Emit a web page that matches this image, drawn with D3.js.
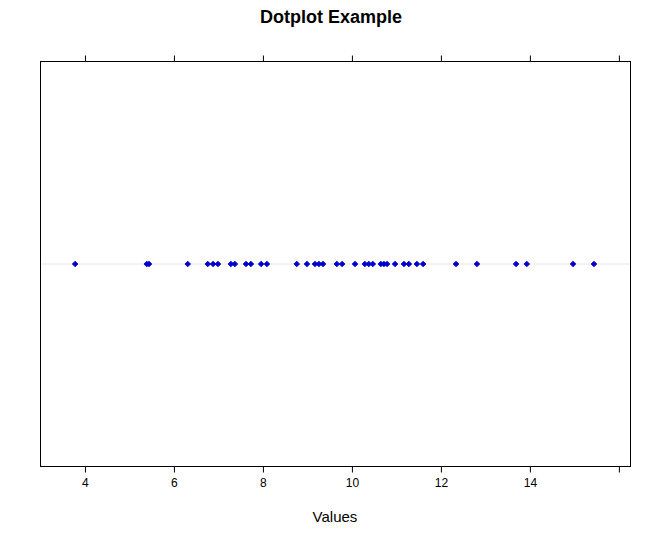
<!DOCTYPE html>
<html><head><meta charset="utf-8">
<script src="https://cdn.jsdelivr.net/npm/d3@7"></script>
<style>body{margin:0;background:#fff}svg{font-family:Arial,"Liberation Sans",sans-serif}</style>
</head><body><svg id="chart" width="662" height="546"></svg>
<script>
var values = [3.78,5.39,5.44,6.31,6.76,6.88,6.99,7.28,7.37,7.62,7.73,7.96,8.09,8.76,8.99,9.17,9.26,9.35,9.66,9.78,10.07,10.29,10.38,10.47,10.65,10.72,10.79,10.97,11.17,11.28,11.46,11.60,12.34,12.81,13.69,13.93,14.97,15.44];
var tickValues = [4,6,8,10,12,14,16];
var tickLabels = ["4","6","8","10","12","14",""];

var svg = d3.select("#chart");
var pLeft = 40, pRight = 630, pTop = 61, pBottom = 466;
var x = d3.scaleLinear().domain([2.99, 16.25]).range([pLeft, pRight]);
var yRow = 264;

svg.append("text").attr("x", 331).attr("y", 23).attr("text-anchor", "middle")
    .attr("font-size", 18).attr("font-weight", "bold").text("Dotplot Example");

// guide line
svg.append("line").attr("x1", pLeft).attr("x2", pRight).attr("y1", yRow).attr("y2", yRow)
    .attr("stroke", "#e6e6e6");

svg.append("rect").attr("x", pLeft + 0.5).attr("y", pTop + 0.5)
    .attr("width", pRight - pLeft).attr("height", pBottom - pTop)
    .attr("fill", "none").attr("stroke", "#000");

var bottomAxis = d3.axisBottom(x).tickValues(tickValues).tickSize(6).tickPadding(6)
    .tickFormat(function (d, i) { return tickLabels[i]; });
var g = svg.append("g").attr("transform", "translate(0," + (pBottom + 0.5) + ")").call(bottomAxis);
g.select(".domain").remove();
g.selectAll("text").attr("font-size", 12).attr("font-family", "Arial,Liberation Sans,sans-serif");

var topAxis = d3.axisTop(x).tickValues(tickValues).tickSize(6).tickFormat("");
var gt = svg.append("g").attr("transform", "translate(0," + (pTop + 0.5) + ")").call(topAxis);
gt.select(".domain").remove();

svg.append("text").attr("x", (pLeft + pRight) / 2).attr("y", 522).attr("text-anchor", "middle")
    .attr("font-size", 15).text("Values");

svg.selectAll("path.dot").data(values).enter().append("path").attr("class", "dot")
    .attr("d", d3.symbol().type(d3.symbolSquare).size(16))
    .attr("transform", function (d) { return "translate(" + x(d) + "," + yRow + ") rotate(45)"; })
    .attr("fill", "#0000cc").attr("stroke", "#0000cc").attr("stroke-width", 0.8);
</script></body></html>
